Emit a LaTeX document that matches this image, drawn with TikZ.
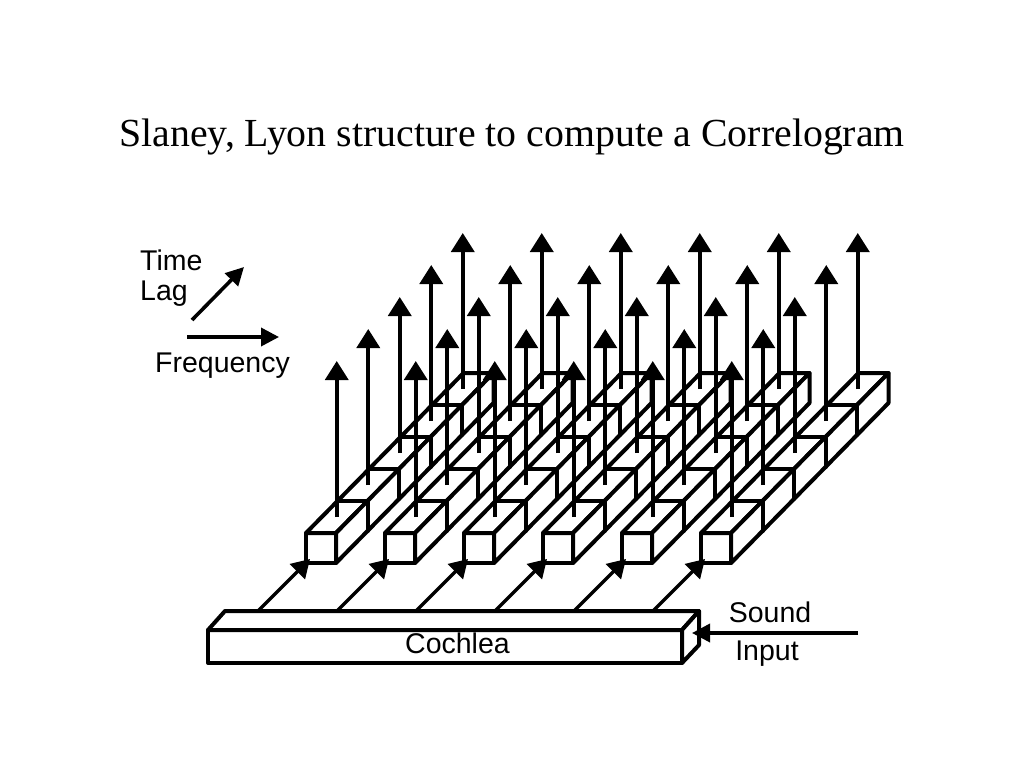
\documentclass[tikz,border=0pt]{standalone}
\usepackage{fontspec}
\setmainfont{Liberation Serif}
\newfontfamily\arialf{Liberation Sans}
\usetikzlibrary{arrows.meta}
\tikzset{
  edge/.style={line width=4pt, line join=round, line cap=round},
  face/.style={edge, fill=white},
  uparrow/.style={line width=3.6pt, -{Triangle[width=23pt,length=19pt]}},
  inarrow/.style={line width=3.4pt, -{Triangle[width=21pt,length=18pt]}},
  legarrow/.style={line width=3.6pt, -{Triangle[width=18pt,length=18pt]}},
  lbl/.style={inner sep=0pt, font=\arialf\fontsize{28.5}{32}\selectfont},
}
\begin{document}
\begin{tikzpicture}[x=1pt,y=-1pt]
\useasboundingbox[fill=white] (0,0) rectangle (1024,768);

% title
\node[inner sep=0pt, anchor=base, font=\fontsize{39.8}{46}\selectfont] (title) at (512,146) {Slaney, Lyon structure to compute a Correlogram};

% legend
\node[lbl, anchor=base west] (time) at (140,270) {Time};
\node[lbl, anchor=base west] (lag) at (140,300) {Lag};
\node[lbl, anchor=base west] (freq) at (155,372) {Frequency};
\coordinate (tla) at (192,320);
\coordinate (tlb) at (244,267);
\draw[legarrow] (tla) -- (tlb);
\coordinate (fra) at (187,337);
\coordinate (frb) at (279,337);
\draw[legarrow] (fra) -- (frb);

% channels: rows of lag cells
\foreach \k in {0,...,5}{
  \pgfmathsetmacro{\xo}{306+79*\k}
  \begin{scope}[shift={(\xo,533)}]
    \draw[face] (0,0) rectangle (30,30);
    \draw[face] (0,0) -- (157.5,-160) -- (187.5,-160) -- (30,0) -- cycle;
    \draw[face] (30,0) -- (187.5,-160) -- (187.5,-130) -- (30,30) -- cycle;
    \foreach \d in {1,...,4}{
      \draw[edge] (31.5*\d,-32*\d) -- ++(30,0) -- ++(0,30);
    }
    \coordinate (e\k) at (4,26);
    \foreach \d in {0,...,4}{
      \coordinate (b\k\d) at (30.75+31.5*\d,-16-32*\d);
      \coordinate (t\k\d) at (30.75+31.5*\d,-172-32*\d);
      \draw[uparrow] (b\k\d) -- (t\k\d);
    }
  \end{scope}
}

% cochlea
\draw[face] (208,630) rectangle (682,663);
\draw[face] (208,630) -- (225,611) -- (699,611) -- (682,630) -- cycle;
\draw[face] (682,630) -- (699,611) -- (699,645) -- (682,663) -- cycle;
\node[lbl, anchor=base] (cochlea) at (457.5,653) {Cochlea};

% cochlea outputs to channels
\foreach \k in {0,...,5}{
  \coordinate (s\k) at (258+79*\k,611);
  \draw[inarrow] (s\k) -- (e\k);
}

% sound input
\coordinate (sin) at (858,633);
\coordinate (sto) at (692,633);
\draw[legarrow] (sin) -- (sto);
\node[lbl, anchor=base] (sound) at (770,622) {Sound};
\node[lbl, anchor=base] (input) at (767,660) {Input};
\end{tikzpicture}
\end{document}
